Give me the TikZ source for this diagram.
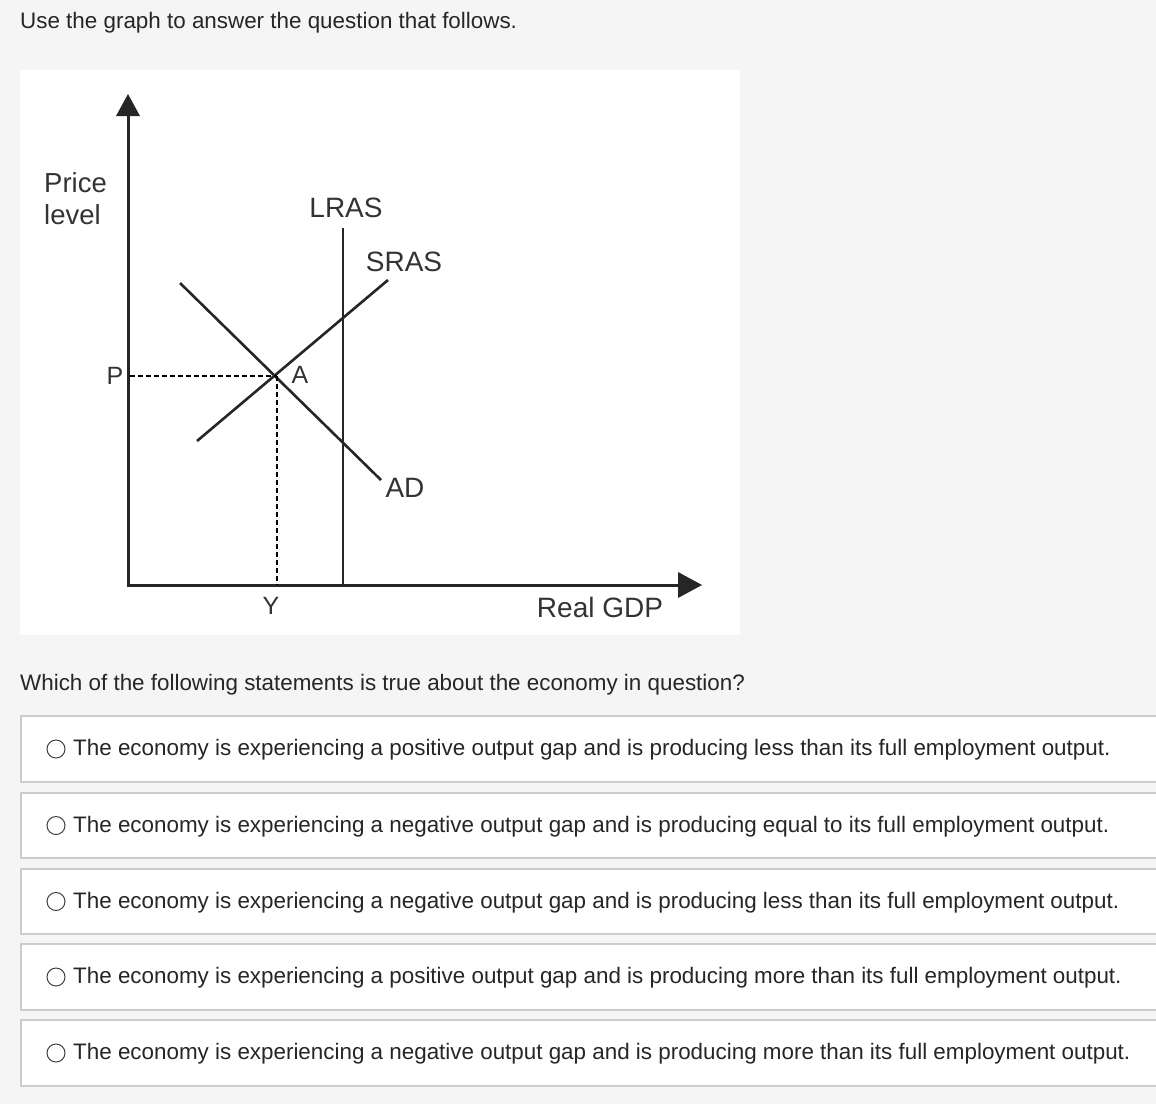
\documentclass[tikz,border=0pt]{standalone}
\usepackage{fontspec}
\setmainfont{Liberation Sans}
\begin{document}
\begin{tikzpicture}[x=1pt,y=-1pt,
  txt/.style={anchor=west,inner sep=0,font=\fontsize{22.4}{26}\selectfont,text=black!85},
  glab/.style={inner sep=0,font=\fontsize{28}{32}\selectfont,text=black!80},
  optbox/.style={draw=black!20,line width=2pt,fill=white},
  curve/.style={line width=2.6pt,black!85},
  dashline/.style={line width=1.6pt,dash pattern=on 5pt off 3pt}]
\fill[black!4] (0,0) rectangle (1156,1104);
\useasboundingbox (0,0) rectangle (1156,1104);
\node[txt] (q0) at (20,23) {Use the graph to answer the question that follows.};
\fill[white] (20,70) rectangle (740,635);
% axes
\coordinate (O) at (128,585);
\coordinate (Ytop) at (128,110);
\coordinate (Xend) at (684,585);
\draw[line width=3pt,black!85] (Ytop) -- (O) -- (Xend);
\fill[black!85] (116,116) -- (140,116) -- (128,94) -- cycle;
\fill[black!85] (678,572) -- (678,598) -- (702,585) -- cycle;
\node[glab,anchor=west,align=left,font=\fontsize{27.5}{32}\selectfont] (pl) at (44,199) {Price\\level};
% LRAS
\coordinate (L1) at (343,228); \coordinate (L2) at (343,585);
\draw[curve] (L1) -- (L2);
\node[glab] (lras) at (346,208) {LRAS};
% SRAS
\coordinate (S1) at (197,441); \coordinate (S2) at (388,280);
\draw[curve] (S1) -- (S2);
\node[glab] (sras) at (404,262) {SRAS};
% AD
\coordinate (D1) at (180,283); \coordinate (D2) at (381,480);
\draw[curve] (D1) -- (D2);
\node[glab] (ad) at (405,488) {AD};
% equilibrium
\coordinate (A) at (277,376);
\coordinate (Pax) at (130,376);
\coordinate (Yax) at (277,585);
\draw[dashline] (Pax) -- (A);
\draw[dashline] (A) -- (Yax);
\node[glab,font=\fontsize{25}{28}\selectfont] (P) at (115,376) {P};
\node[glab,font=\fontsize{25}{28}\selectfont] (Al) at (300,375) {A};
\node[glab,font=\fontsize{25}{28}\selectfont] (Y) at (271,606) {Y};
\node[glab] (gdp) at (600,607) {Real GDP};
% question
\node[txt] (q1) at (20,685) {Which of the following statements is true about the economy in question?};
\foreach \t/\b/\s [count=\i] in {
716/782/{The economy is experiencing a positive output gap and is producing less than its full employment output.},
793/858/{The economy is experiencing a negative output gap and is producing equal to its full employment output.},
869/934/{The economy is experiencing a negative output gap and is producing less than its full employment output.},
944/1010/{The economy is experiencing a positive output gap and is producing more than its full employment output.},
1020/1086/{The economy is experiencing a negative output gap and is producing more than its full employment output.}}{
  \draw[optbox] (21,\t) rectangle (1170,\b);
  \draw[black!75,line width=1pt] (56,{(\t+\b)/2}) circle (9);
  \node[txt] (o\i) at (73,{(\t+\b)/2+1}) {\s};
}
\end{tikzpicture}
\end{document}
